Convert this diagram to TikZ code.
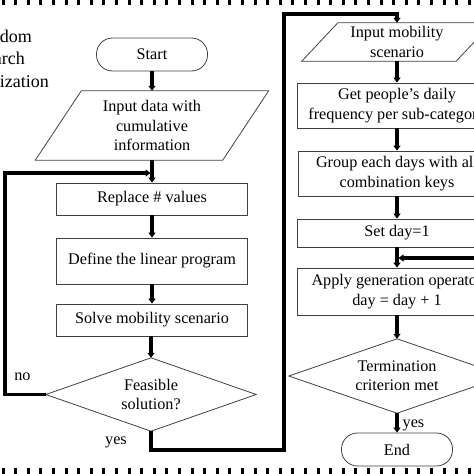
\documentclass[tikz,border=0pt]{standalone}
\usepackage{fontspec}
\setmainfont{Liberation Serif}
\usetikzlibrary{arrows.meta,calc}
\begin{document}
\begin{tikzpicture}[x=1pt,y=-1pt,
  txt/.style={inner sep=0pt, align=center, font=\fontsize{16.2}{19.3}\selectfont},
  box/.style={txt, draw=black!75, line width=0.8pt, fill=white, minimum width=191pt, minimum height=32pt},
  term/.style={box, rounded corners=16pt, minimum width=111pt, minimum height=33pt},
  ghost/.style={txt, minimum width=#1},
  shp/.style={draw=black!75, line width=0.8pt},
  con/.style={line width=3.5pt},
  arr/.style={con, -{Triangle[length=5pt,width=7pt]}},
  side/.style={anchor=base east, inner sep=0pt, font=\fontsize{18}{22}\selectfont},
  lbl/.style={inner sep=0pt, font=\fontsize{16.2}{19.3}\selectfont},
  dashrule/.style={line width=#1, dash pattern=on 3pt off 9.6pt}]
\useasboundingbox (0,0) rectangle (474,474);
\clip (0,0) rectangle (474,474);

% frame dashes
\coordinate (dt1) at (1.5,0);
\coordinate (dt2) at (480,0);
\coordinate (db1) at (1.5,471.5);
\coordinate (db2) at (480,471.5);
\draw[dashrule=10pt] (dt1) -- (dt2);
\draw[dashrule=7pt] (db1) -- (db2);

% clipped side title
\node[side] (t1) at (32,42) {dom};
\node[side] (t2) at (25,64.5) {arch};
\node[side] (t3) at (49,87) {ization};

% left column
\node[term] (start) at (152,54.5) {Start};
\node[ghost=187pt, minimum height=69pt] (in1) at (152,125.5) {Input data with\\cumulative\\information};
\draw[shp] ($(in1.north west)+(23,0)$) -- ($(in1.north east)+(23,0)$) -- ($(in1.south east)-(23,0)$) -- ($(in1.south west)-(23,0)$) -- cycle;
\node[box] (rep) at (152,199) {Replace \# values};
\node[box, minimum height=46pt] (def) at (152,261) {Define the linear program};
\node[box] (sol) at (152,320) {Solve mobility scenario};
\node[ghost=210pt, minimum height=73pt] (feas) at (151,394.5) {Feasible\\solution?};
\draw[shp] (feas.north) -- (feas.east) -- (feas.south) -- (feas.west) -- cycle;

% right column
\node[ghost=154pt, minimum height=38pt] (in2) at (397,42) {Input mobility\\scenario};
\draw[shp] ($(in2.north west)+(18,0)$) -- ($(in2.north east)+(18,0)$) -- ($(in2.south east)-(18,0)$) -- ($(in2.south west)-(18,0)$) -- cycle;
\node[box, minimum width=200pt, minimum height=45pt] (get) at (397,105.5) {Get people’s daily\\frequency per sub-category};
\node[box, minimum width=198pt, minimum height=45pt] (grp) at (397,173.5) {Group each days with all\\combination keys};
\node[box, minimum width=200pt, minimum height=28pt] (set) at (397,233) {Set day=1};
\node[box, minimum width=200pt, minimum height=47pt] (app) at (397,291.5) {Apply generation operator\\day = day + 1};
\node[ghost=216pt, minimum height=74pt] (tc) at (397,376) {Termination\\criterion met};
\draw[shp] (tc.north) -- (tc.east) -- (tc.south) -- (tc.west) -- cycle;
\node[term] (end) at (397,449.5) {End};

% connectors, left column
\draw[arr] (start) -- (in1.north);
\draw[arr] (in1.south) -- (rep.north);
\draw[arr] (rep) -- (def);
\draw[arr] (def) -- (sol);
\draw[arr] (sol.south -| feas.north) -- (feas.north);
\coordinate (fbx) at (5,173);
\coordinate (fbend) at (150.5,173);
\draw[arr] (feas.west) -| (fbx) -- (fbend);
\coordinate (ya) at (284,450);
\coordinate (yb) at (284,14);
\draw[arr] (feas.south) |- (ya) -- (yb) -| (in2.north);

% connectors, right column
\draw[arr] (in2.south) -- (get.north);
\draw[arr] (get) -- (grp);
\draw[arr] (grp) -- (set);
\draw[arr] (set) -- (app);
\draw[arr] (app.south) -- (tc.north);
\draw[arr] (tc.south) -- (end);
\coordinate (lp) at (520,258);
\coordinate (lpend) at (398.5,258);
\draw[arr] (lp) -- (lpend);

% labels
\node[lbl] (no) at (22.5,377) {no};
\node[lbl, anchor=base] (yes1) at (116,444) {yes};
\node[lbl, anchor=base] (yes2) at (413.5,427) {yes};
\end{tikzpicture}
\end{document}
